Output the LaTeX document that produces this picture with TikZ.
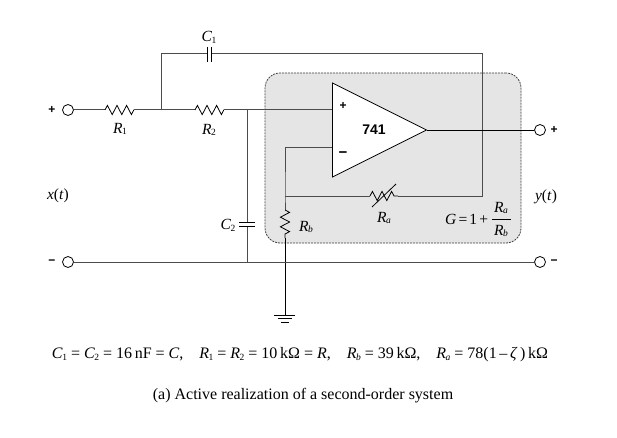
\documentclass[tikz,border=0pt]{standalone}
\usepackage{fontspec}
\setmainfont{Liberation Serif}
\newfontfamily\signfont{Liberation Sans}
\usetikzlibrary{shapes.geometric, decorations.pathmorphing}
\definecolor{wiregray}{gray}{0.3}
\definecolor{boxgray}{gray}{0.9}
\tikzstyle{wire} = [line width=1pt, draw=wiregray]
\tikzstyle{thin wire} = [line width=0.8pt, draw=black]
\tikzstyle{res} = [line width=0.8pt, draw=black, decorate, decoration={zigzag, segment length=9.6pt, amplitude=4.6pt}]
\tikzstyle{plate} = [line width=0.8pt, draw=black]
\tikzstyle{term} = [circle, draw=black, line width=0.8pt, fill=white, minimum size=11pt, inner sep=0pt]
\tikzstyle{lab} = [inner sep=0pt, font=\fontsize{15.5}{17}\selectfont]
\tikzstyle{sign} = [inner sep=0pt, font=\signfont\bfseries\fontsize{12}{14}\selectfont]
\newcommand{\sym}[2]{\textit{#1}\kern-0.5pt\raisebox{-0.25ex}{\fontsize{9.5}{10}\selectfont #2}}
\newcommand{\gap}{\hspace{0.14em}}
\newcommand{\wgap}{\hspace{0.25em}}
\begin{document}
\begin{tikzpicture}[x=1pt, y=-1pt]
        \useasboundingbox (0,0) rectangle (617,438);
        % shaded part
        \node (box) [rectangle, rounded corners=15pt, draw=black!75, dashed, dash pattern=on 2pt off 1pt, line width=0.8pt, fill=boxgray, minimum width=256pt, minimum height=170pt, inner sep=0pt] at (393,158) {};

        \node (in1) [term] at (68,110) {};
        \node (in2) [term] at (68,262) {};
        \node (out1) [term] at (540,130) {};
        \node (out2) [term] at (540,262) {};
        \node (amp) [isosceles triangle, isosceles triangle apex angle=53.13, minimum height=94pt, draw=black, line width=0.8pt, fill=white, inner sep=0pt, anchor=lower side] at (332,130) {};
        \node (gain) [sign, font=\signfont\bfseries\fontsize{14}{16}\selectfont] at (374,130) {741};

        \coordinate (r1a) at (105,110);
        \coordinate (r1b) at (134,110);
        \coordinate (r2a) at (195,110);
        \coordinate (r2b) at (224,110);
        \coordinate (rbt) at (285,210);
        \coordinate (rbb) at (285,238);
        \coordinate (raa) at (370,196);
        \coordinate (rab) at (398,196);
        \coordinate (top) at (161,110);
        \coordinate (topl) at (161,54);
        \coordinate (topr) at (482,54);
        \coordinate (fbr) at (482,196);
        \coordinate (c1a) at (207,54);
        \coordinate (c1b) at (211,54);
        \coordinate (c2n) at (247,110);
        \coordinate (c2a) at (247,222);
        \coordinate (c2b) at (247,226);
        \coordinate (c2s) at (247,262);
        \coordinate (plus) at (332,110);
        \coordinate (minus) at (332,148);
        \coordinate (fbl) at (285,196);
        \coordinate (minl) at (285,148);
        \coordinate (rbs) at (285,262);
        \coordinate (gnd) at (285,315);

        \draw [wire] (in1) -- (r1a);
        \draw [res] (r1a) -- (r1b);
        \draw [wire] (r1b) -- (r2a);
        \draw [res] (r2a) -- (r2b);
        \draw [wire] (r2b) -- (plus);
        \draw [wire] (top) -- (topl) -- (c1a);
        \draw [wire] (c1b) -- (topr) -- (fbr) -- (rab);
        \draw [res] (raa) -- (rab);
        \draw [wire] (raa) -- (fbl);
        \draw [wire] (minus) -- (minl) -- (fbl) -- (rbt);
        \draw [res] (rbt) -- (rbb);
        \draw [thin wire] (rbb) -- (gnd);
        \draw [wire] (c2n) -- (c2a);
        \draw [wire] (c2b) -- (c2s);
        \draw [wire] (in2) -- (out2);
        \draw [thin wire] (amp.apex) -- (out1);

        % capacitor plates
        \draw [plate] (207,47) -- (207,62);
        \draw [plate] (211,47) -- (211,62);
        \draw [plate] (239,222) -- (255,222);
        \draw [plate] (239,226) -- (255,226);
        % variable resistor slash
        \draw [plate] (372,207) -- (396,184);
        % ground
        \draw [plate] (274,315) -- (295,315);
        \draw [plate] (278,318) -- (292,318);
        \draw [plate] (281,322) -- (289,322);

        \node (s1) [sign] at (52,110) {+};
        \node (s2) [sign] at (52,262) {−};
        \node (s3) [sign] at (554,130) {+};
        \node (s4) [sign] at (554,262) {−};
        \node (s5) [sign] at (343,106) {+};
        \node (s6) [sign, font=\signfont\bfseries\fontsize{15}{16}\selectfont] at (343,155) {−};

        \node (lc1) [lab] at (209,37) {\sym{C}{1}};
        \node (lr1) [lab] at (120,129) {\sym{R}{1}};
        \node (lr2) [lab] at (209,130) {\sym{R}{2}};
        \node (lc2) [lab] at (228,225) {\sym{C}{2}};
        \node (lrb) [lab] at (306,227) {\sym{R}{\textit{b}}};
        \node (lra) [lab] at (384,218) {\sym{R}{\textit{a}}};
        \node (lx) [lab] at (58,196) {\textit{x}(\textit{t})};
        \node (ly) [lab] at (546,197) {\textit{y}(\textit{t})};
        \node (lg) [lab, anchor=west] at (445,219) {\textit{G}\gap=\gap1\gap+};
        \node (lnum) [lab] at (501,208) {\sym{R}{\textit{a}}};
        \node (lden) [lab] at (501,231) {\sym{R}{\textit{b}}};
        \draw [plate] (492,219) -- (511,219);

        \node (vals) [lab, font=\fontsize{16}{18}\selectfont] at (300,355) {\sym{C}{1}\wgap=\wgap\sym{C}{2}\wgap=\wgap16\,nF\wgap=\wgap\textit{C},\quad \sym{R}{1}\wgap=\wgap\sym{R}{2}\wgap=\wgap10\,kΩ\wgap=\wgap\textit{R},\quad \sym{R}{\textit{b}}\wgap=\wgap39\,kΩ,\quad \sym{R}{\textit{a}}\wgap=\wgap78(1\,–\,\textit{ζ}\,)\,kΩ};
        \node (cap) [lab, font=\fontsize{16}{18}\selectfont] at (303,396) {(a) Active realization of a second-order system};
\end{tikzpicture}
\end{document}
